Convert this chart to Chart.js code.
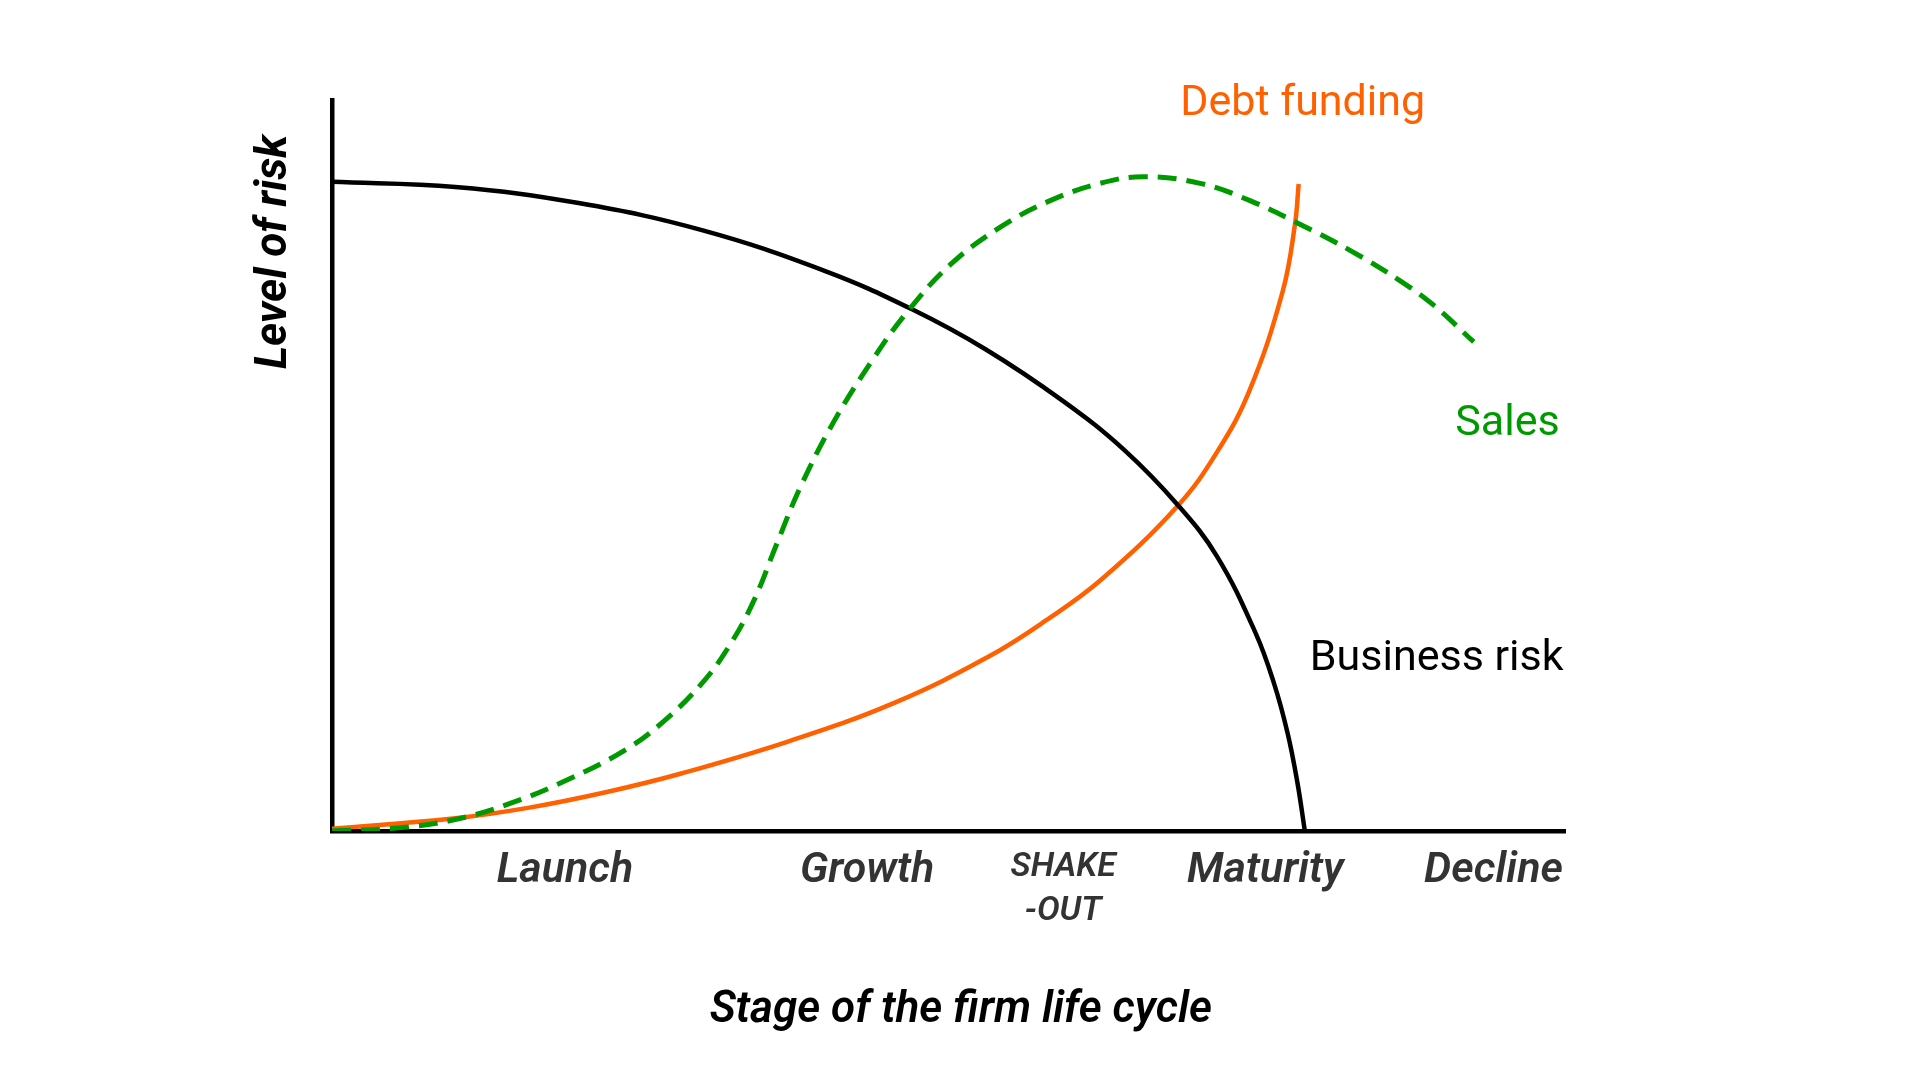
<!DOCTYPE html>
<html>
<head>
<meta charset="utf-8">
<title>Business risk vs. firm life cycle</title>
<script src="https://cdn.jsdelivr.net/npm/chart.js@4.4.1/dist/chart.umd.min.js"></script>
<style>
  html, body { margin: 0; padding: 0; background: #fff; }
  #wrap { width: 1920px; height: 1080px; }
</style>
</head>
<body>
<div id="wrap"><canvas id="lifeCycle" width="1920" height="1080"></canvas></div>
<script>
/* ==========================================
   DATA
   ========================================== */

// life cycle stages on the x axis (0..100 scale)
const stageLabels = ['Launch', 'Growth', ['SHAKE', '-OUT'], 'Maturity', 'Decline'];
const stagePos = [18.9, 43.4, 59.3, 75.7, 94.2];

// Business risk (black)
const riskX = [0, 10, 20, 30, 40, 47, 53, 59.3, 64.2, 68.7, 71.8, 74.9, 76.4, 77.5, 78.3, 78.9];
const riskY = [88.8, 88.1, 85.9, 82.2, 76.6, 71.4, 65.9, 58.8, 52.2, 44.4, 37.5, 27.1, 20.2, 13.4, 6.6, 0];

// Debt funding (orange)
const debtX = [0, 9.8, 16, 22.2, 28.4, 37.1, 45.7, 53.3, 57.9, 62.4, 68.6, 71.8, 74.4, 77.1, 78.1, 78.4];
const debtY = [0.3, 1.7, 3.2, 5.3, 7.9, 12.3, 17.6, 23.9, 28.8, 34.4, 44.5, 51.9, 60.2, 73.8, 83.0, 88.5];

// Sales (green, dashed)
const salesX = [0, 5.2, 9.8, 14.5, 19.1, 23.8, 26.9, 30.0, 32.1, 34.1, 36.1, 38.0, 40.7, 43.9, 46.6,
                50.1, 54.2, 58.2, 62.3, 65.8, 70.4, 74.5, 78.5, 82.6, 86.6, 89.3, 92.6];
const salesY = [0, 0.4, 1.5, 3.8, 7.0, 11.1, 15.0, 20.2, 25.0, 31.1, 39.4, 47.1, 56.0, 64.6, 70.9,
                77.4, 82.6, 86.2, 88.6, 89.5, 88.6, 86.2, 83.0, 79.4, 75.3, 72.0, 66.9];

const ORANGE = '#ff6000';
const GREEN = '#009a00';

function toPoints(xs, ys) {
  return xs.map((x, i) => ({ x: x, y: ys[i] }));
}

/* ==========================================
   TEXT PLUGIN - curve names and axis titles
   ========================================== */
const textPlugin = {
  id: 'lifeCycleText',
  afterDraw(chart) {
    const { ctx, scales: { x, y } } = chart;
    ctx.save();
    ctx.textBaseline = 'alphabetic';
    ctx.textAlign = 'left';

    // curve names, anchored in data units (left edge, baseline)
    ctx.font = '400 43px Roboto';
    ctx.fillStyle = ORANGE;
    ctx.fillText('Debt funding', x.getPixelForValue(68.8), y.getPixelForValue(97.9));
    ctx.fillStyle = GREEN;
    ctx.fillText('Sales', x.getPixelForValue(91.1), y.getPixelForValue(54.2));
    ctx.fillStyle = '#000';
    ctx.fillText('Business risk', x.getPixelForValue(79.3), y.getPixelForValue(22.0));

    // x axis title
    ctx.textAlign = 'center';
    ctx.font = 'italic 600 44px Roboto';
    ctx.fillText('Stage of the firm life cycle', x.getPixelForValue(51), 1022);

    // y axis title, reading bottom to top
    ctx.translate(286, 252);
    ctx.rotate(-Math.PI / 2);
    ctx.font = 'italic 700 44px Roboto';
    ctx.fillText('Level of risk', 0, 0);
    ctx.restore();
  }
};

/* ==========================================
   CHART
   ========================================== */
new Chart(document.getElementById('lifeCycle'), {
  type: 'line',
  data: {
    datasets: [
      {
        label: 'Sales',
        data: toPoints(salesX, salesY),
        borderColor: GREEN,
        borderWidth: 5,
        borderDash: [19, 10],
        tension: 0.4
      },
      {
        label: 'Business risk',
        data: toPoints(riskX, riskY),
        borderColor: '#000',
        borderWidth: 4.5,
        tension: 0.4
      },
      {
        label: 'Debt funding',
        data: toPoints(debtX, debtY),
        borderColor: ORANGE,
        borderWidth: 4.5,
        tension: 0.4
      }
    ]
  },
  options: {
    responsive: false,
    animation: false,
    devicePixelRatio: 1,
    elements: { point: { radius: 0 } },
    layout: { padding: { left: 0, top: 100, right: 355, bottom: 0 } },
    plugins: {
      legend: { display: false },
      tooltip: { enabled: false }
    },
    scales: {
      x: {
        type: 'linear',
        min: 0,
        max: 100,
        grid: { display: false, drawTicks: false },
        border: { display: true, color: '#000', width: 4.5 },
        afterBuildTicks: (scale) => {
          scale.ticks = stagePos.map(v => ({ value: v }));
        },
        afterFit: (scale) => { scale.height = 249; },
        ticks: {
          autoSkip: false,
          maxRotation: 0,
          minRotation: 0,
          padding: 14,
          color: '#333',
          font: (c) => c.index === 2
            ? { family: 'Roboto', size: 34, style: 'italic', weight: 600, lineHeight: 1.3 }
            : { family: 'Roboto', size: 43, style: 'italic', weight: 600, lineHeight: 1.2 },
          callback: (value, index) => stageLabels[index]
        }
      },
      y: {
        min: 0,
        max: 100,
        grid: { display: false, drawTicks: false },
        border: { display: true, color: '#000', width: 4.5 },
        ticks: { display: false },
        afterFit: (scale) => { scale.width = 332; }
      }
    }
  },
  plugins: [textPlugin]
});
</script>
</body>
</html>
